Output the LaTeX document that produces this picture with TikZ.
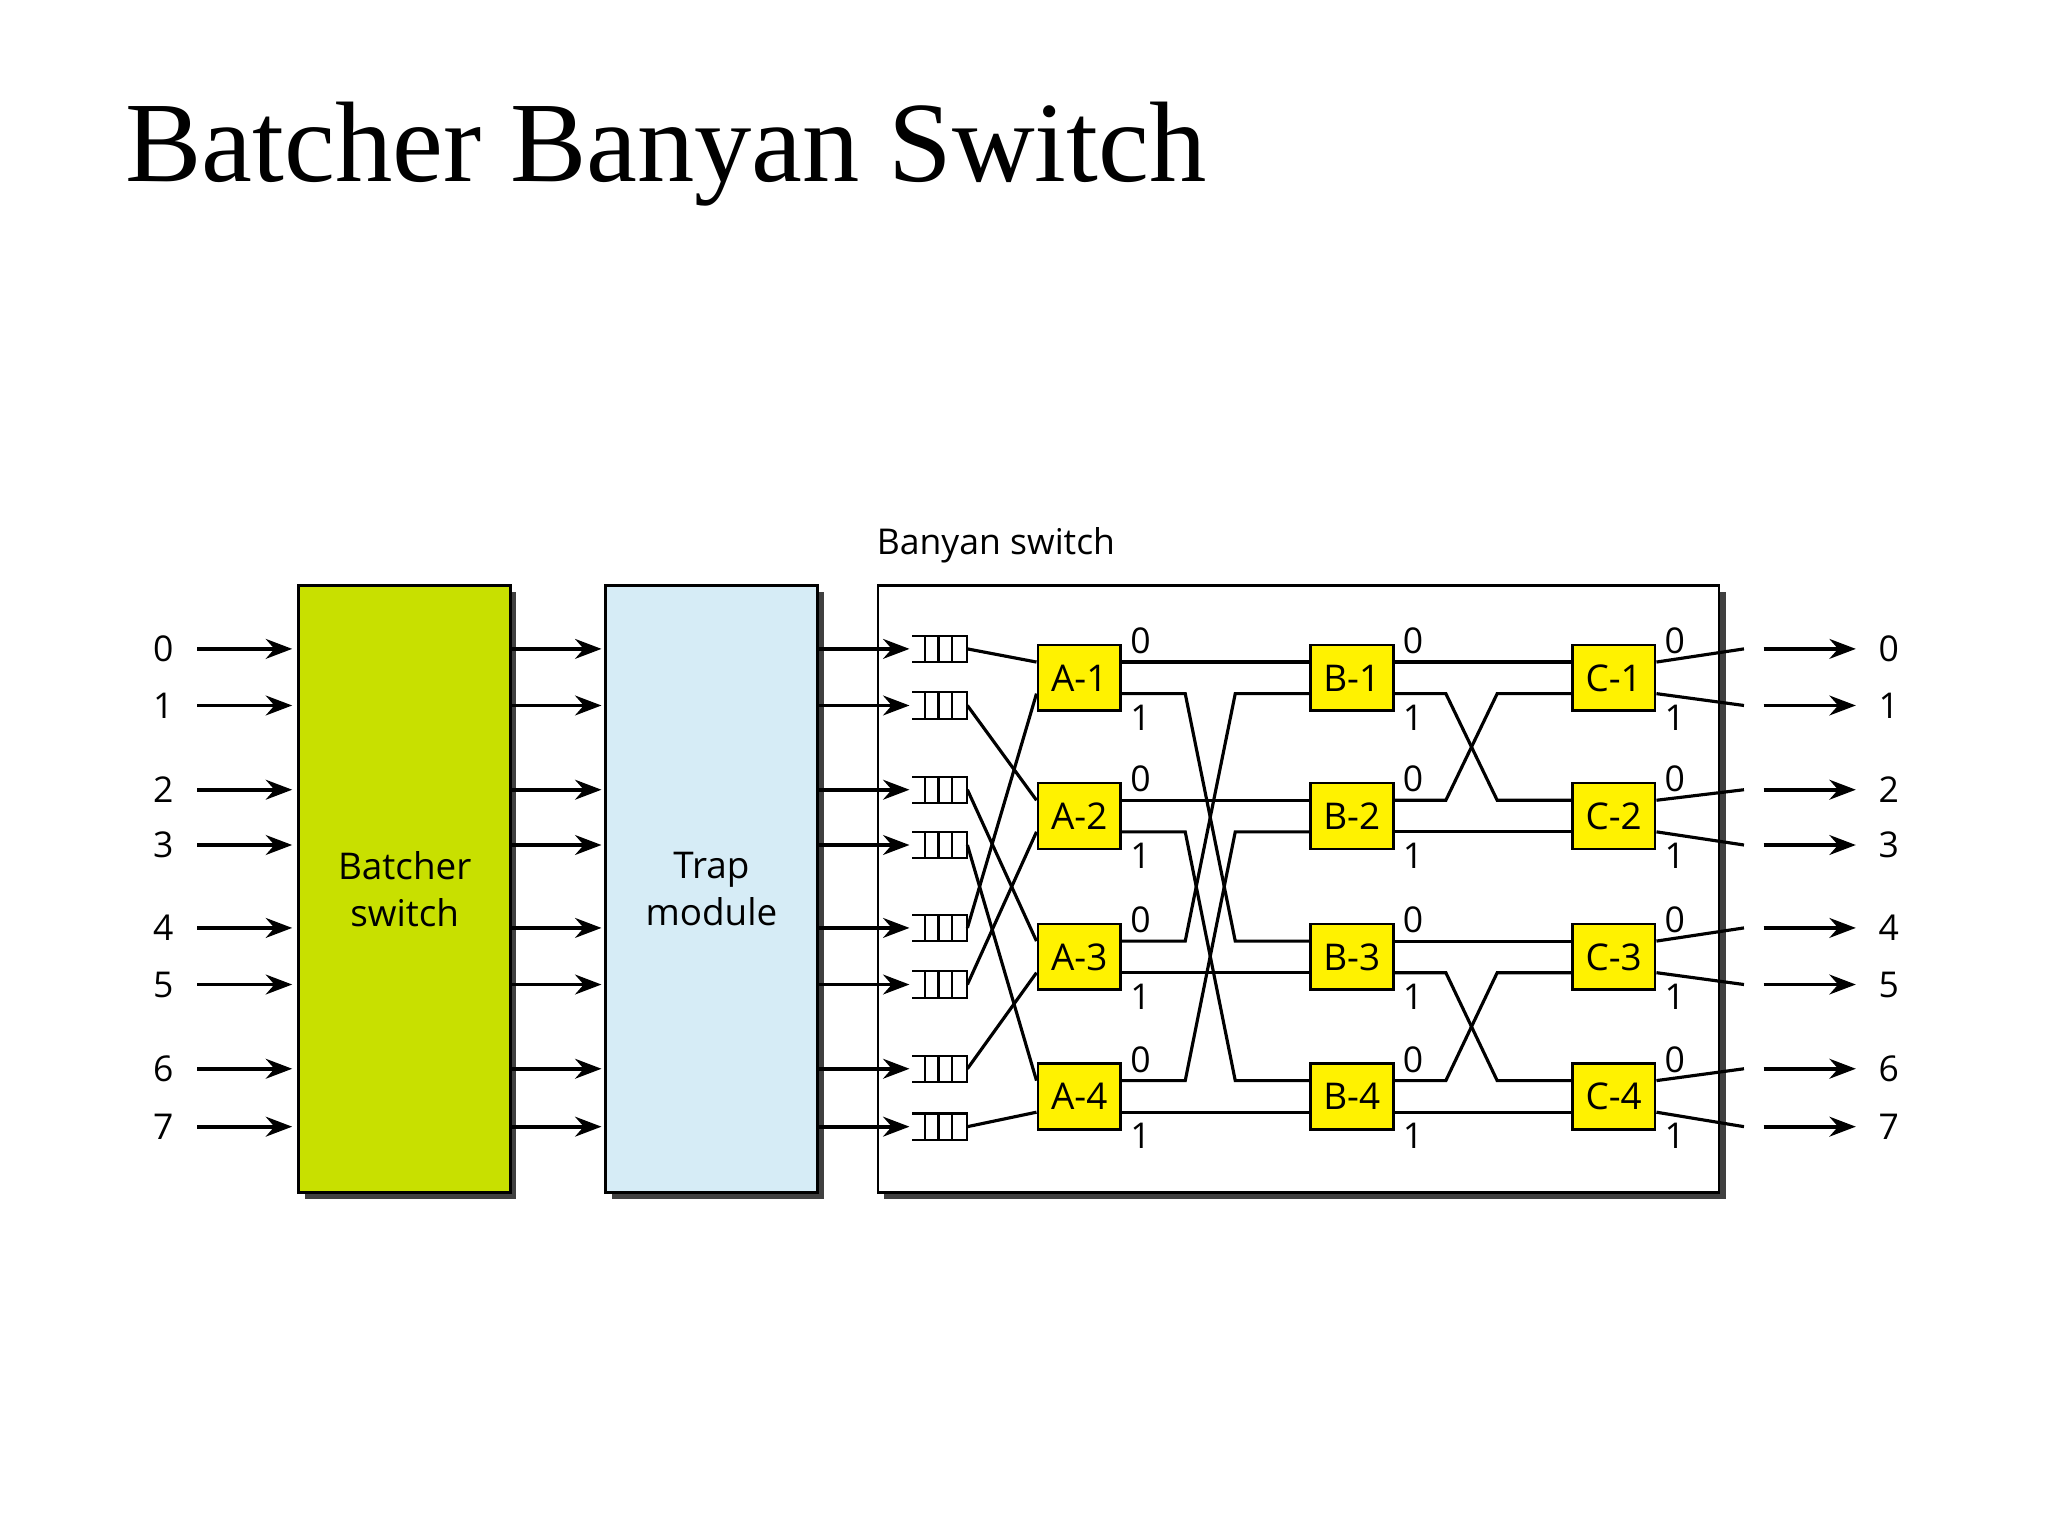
\documentclass[tikz,border=0pt]{standalone}
\usepackage{fontspec}
\setmainfont{Liberation Serif}
\newfontfamily\sansf{Open Sans}
\usetikzlibrary{arrows.meta,calc}
\begin{document}
\begin{tikzpicture}[x=1pt,y=-1pt,
  lbl/.style={font=\sansf\fontsize{27}{32}\selectfont,inner sep=0},
  arr/.style={line width=3pt,-{Stealth[length=20pt,width=15pt]}},
  wire/.style={line width=2.4pt},
  blk/.style={draw,line width=2pt,minimum width=161pt,minimum height=461pt,anchor=north west,inner sep=0,align=center,font=\sansf\fontsize{28}{36}\selectfont},
  sw/.style={draw,line width=2pt,fill=yellow,minimum width=63pt,minimum height=50pt,inner sep=0,font=\sansf\fontsize{28}{32}\selectfont},
  shadow/.style={fill=black!75}]
\useasboundingbox (0,0) rectangle (1556,1167);
\fill[white] (0,0) rectangle (1556,1167);
\node[anchor=base west,inner sep=0,font=\fontsize{87}{100}\selectfont] (title) at (95,138) {Batcher Banyan Switch};
% shadows
\fill[shadow] (232,450) rectangle (392,911);
\fill[shadow] (465,450) rectangle (626,911);
\fill[shadow] (672,450) rectangle (1311,911);
\node[blk,fill={rgb,255:red,200;green,224;blue,0}] (bat) at (226,444) {Batcher\\switch};
\node[blk,fill={rgb,255:red,214;green,236;blue,246}] (trap) at (459,444) {Trap\\module};
\node[draw,line width=2pt,fill=white,minimum width=639pt,minimum height=461pt,anchor=north west,inner sep=0] (ban) at (666,444) {};
\node[lbl,anchor=south west] (bantitle) at (666,428) {Banyan switch};
% rows
\foreach \i/\y in {0/493,1/536,2/600,3/642,4/705,5/748,6/812,7/856}{
  \node[lbl] (in\i) at (124,\y) {\i};
  \coordinate (bi\i) at (222,\y);
  \coordinate (bo\i) at (388,\y);
  \coordinate (ti\i) at (457,\y);
  \coordinate (to\i) at (622,\y);
  \coordinate (qi\i) at (691,\y);
  \coordinate (q\i) at (735,\y);
  \coordinate (os\i) at (1325,\y);
  \coordinate (oa\i) at (1340,\y);
  \coordinate (ob\i) at (1410,\y);
  \node[lbl] (out\i) at (1435,\y) {\i};
  \draw[arr] ([xshift=26pt]in\i.center) -- (bi\i);
  \draw[arr] (bo\i) -- (ti\i);
  \draw[arr] (to\i) -- (qi\i);
  \draw[arr] (oa\i) -- (ob\i);
  \draw[line width=1.6pt] (693,\y-10) -- (735,\y-10) -- (735,\y+10) -- (693,\y+10);
  \foreach \xx in {703,713,723} \draw[line width=1.6pt] (\xx,\y-10) -- (\xx,\y+10);
}
% switches
\foreach \k/\y in {1/515,2/620,3/727,4/833}{
  \foreach \s/\x in {A/820,B/1027,C/1226}{
    \node[sw] (\s\k) at (\x,\y) {\s-\k};
    \coordinate (\s\k i0) at ($(\s\k.west)+(0,-12)$);
    \coordinate (\s\k i1) at ($(\s\k.west)+(0,12)$);
    \coordinate (\s\k o0) at ($(\s\k.east)+(0,-12)$);
    \coordinate (\s\k o1) at ($(\s\k.east)+(0,12)$);
    \node[lbl] at ($(\s\k.east)+(14,-28)$) {0};
    \node[lbl] at ($(\s\k.east)+(14,30)$) {1};
  }
}
% queues to A
\draw[wire] (q0) -- (A1i0); \draw[wire] (q1) -- (A2i0);
\draw[wire] (q2) -- (A3i0); \draw[wire] (q3) -- (A4i0);
\draw[wire] (q4) -- (A1i1); \draw[wire] (q5) -- (A2i1);
\draw[wire] (q6) -- (A3i1); \draw[wire] (q7) -- (A4i1);
% A to B
\foreach \s/\d in {A1o0/B1i0,A1o1/B3i0,A2o0/B2i0,A2o1/B4i0,A3o0/B1i1,A3o1/B3i1,A4o0/B2i1,A4o1/B4i1}
  \draw[wire] (\s) -- ([xshift=48pt]\s) -- ([xshift=-56pt]\d) -- (\d);
% B to C
\foreach \s/\d in {B1o0/C1i0,B1o1/C2i0,B2o0/C1i1,B2o1/C2i1,B3o0/C3i0,B3o1/C4i0,B4o0/C3i1,B4o1/C4i1}
  \draw[wire] (\s) -- ([xshift=39pt]\s) -- ([xshift=-56pt]\d) -- (\d);
% C to outputs
\draw[wire] (C1o0) -- (os0); \draw[wire] (C1o1) -- (os1);
\draw[wire] (C2o0) -- (os2); \draw[wire] (C2o1) -- (os3);
\draw[wire] (C3o0) -- (os4); \draw[wire] (C3o1) -- (os5);
\draw[wire] (C4o0) -- (os6); \draw[wire] (C4o1) -- (os7);
\end{tikzpicture}
\end{document}
